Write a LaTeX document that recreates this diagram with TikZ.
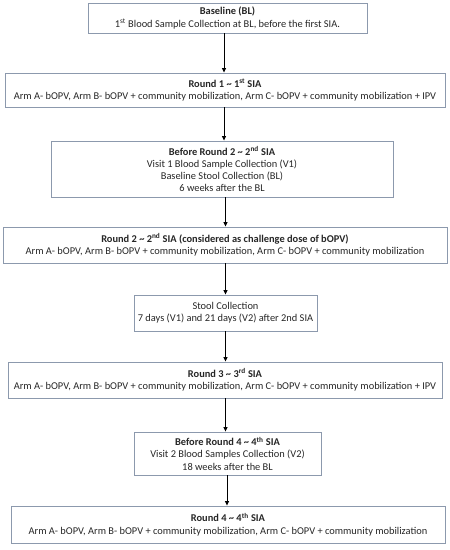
\documentclass[tikz,border=0pt]{standalone}
\usepackage{fontspec}
\setmainfont{Carlito}
\usetikzlibrary{arrows.meta}
\definecolor{boxline}{HTML}{8C99AD}
\definecolor{txt}{HTML}{262626}
\tikzset{
  flowbox/.style={draw=boxline, line width=0.9pt, align=center, text=txt, inner sep=0pt,
    font=\fontsize{10.4}{12.2}\selectfont},
  flowarrow/.style={draw=black, line width=0.8pt, -{Triangle[length=4.5pt,width=4pt]}}
}
\newcommand{\tl}{\textasciitilde}
\begin{document}
\begin{tikzpicture}[x=1pt,y=-1pt]
\useasboundingbox (0,0) rectangle (450,550);
\node[flowbox, minimum width=279pt, minimum height=30pt] (b1) at (227.5,18)
  {\textbf{Baseline (BL)}\\1\textsuperscript{st} Blood Sample Collection at BL, before the first SIA.};
\node[flowbox, minimum width=440pt, minimum height=34pt] (b2) at (225,90)
  {\textbf{Round 1 \tl{} 1\textsuperscript{st} SIA}\\Arm A- bOPV, Arm B- bOPV + community mobilization, Arm C- bOPV + community mobilization + IPV};
\node[flowbox, minimum width=342pt, minimum height=56pt] (b3) at (222,169)
  {\textbf{Before Round 2 \tl{} 2\textsuperscript{nd} SIA}\\Visit 1 Blood Sample Collection (V1)\\Baseline Stool Collection (BL)\\6 weeks after the BL};
\node[flowbox, minimum width=444pt, minimum height=36pt] (b4) at (225,245)
  {\textbf{Round 2 \tl{} 2\textsuperscript{nd} SIA (considered as challenge dose of bOPV)}\\Arm A- bOPV, Arm B- bOPV + community mobilization, Arm C- bOPV + community mobilization};
\node[flowbox, minimum width=183pt, minimum height=36pt] (b5) at (225.5,313)
  {Stool Collection\\7 days (V1) and 21 days (V2) after 2nd SIA};
\node[flowbox, minimum width=434pt, minimum height=36pt] (b6) at (225,380)
  {\textbf{Round 3 \tl{} 3\textsuperscript{rd} SIA}\\Arm A- bOPV, Arm B- bOPV + community mobilization, Arm C- bOPV + community mobilization + IPV};
\node[flowbox, minimum width=187pt, minimum height=43pt] (b7) at (227.5,453.5)
  {\textbf{Before Round 4 \tl{} 4\textsuperscript{th} SIA}\\Visit 2 Blood Samples Collection (V2)\\18 weeks after the BL};
\node[flowbox, minimum width=434pt, minimum height=37pt] (b8) at (228,524.5)
  {\textbf{Round 4 \tl{} 4\textsuperscript{th} SIA}\\Arm A- bOPV, Arm B- bOPV + community mobilization, Arm C- bOPV + community mobilization};
\coordinate (x1) at (224,0);
\coordinate (x2) at (225.5,0);
\coordinate (x3) at (227,0);
\draw[flowarrow] (b1.south -| x1) -- (b2.north -| x1);
\draw[flowarrow] (b2.south -| x1) -- (b3.north -| x1);
\draw[flowarrow] (b3.south -| x2) -- (b4.north -| x2);
\draw[flowarrow] (b4.south -| x2) -- (b5.north -| x2);
\draw[flowarrow] (b5.south -| x2) -- (b6.north -| x2);
\draw[flowarrow] (b6.south -| x2) -- (b7.north -| x2);
\draw[flowarrow] (b7.south -| x3) -- (b8.north -| x3);
\end{tikzpicture}
\end{document}
